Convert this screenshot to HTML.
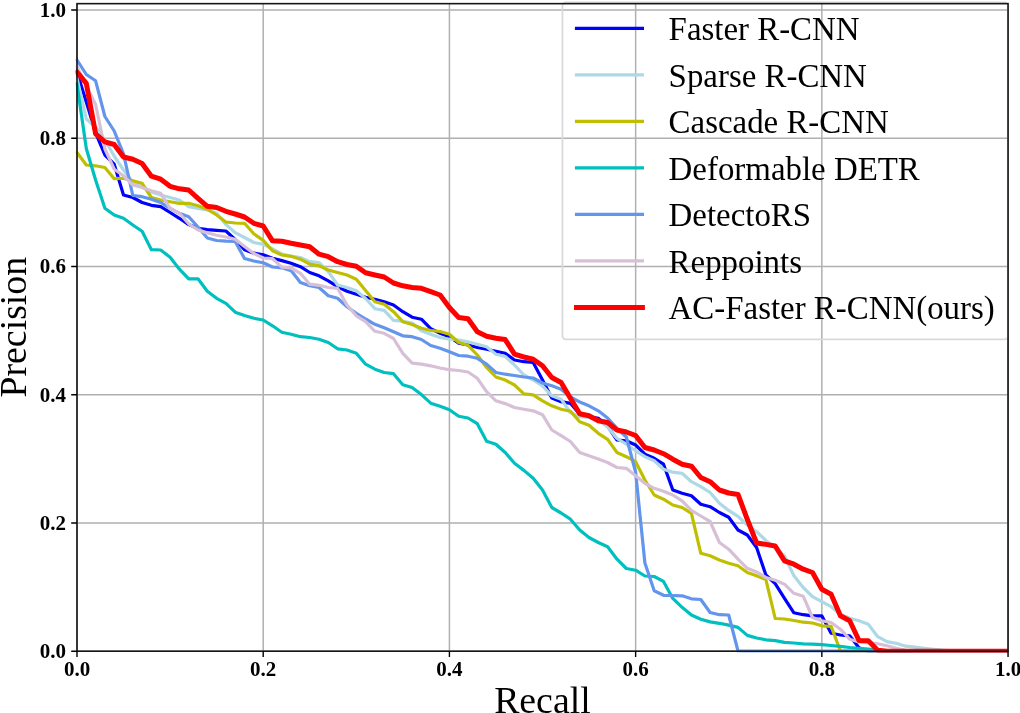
<!DOCTYPE html>
<html><head><meta charset="utf-8"><title>PR curve</title>
<style>html,body{margin:0;padding:0;background:#fff}svg{display:block}text{font-family:"Liberation Serif",serif;fill:#000}</style></head><body>
<svg width="1020" height="713" viewBox="0 0 1020 713">
<rect width="1020" height="713" fill="#fff"/>
<path d="M77.00 3.65 V651.2 M77.0 651.20 H1008.05 M263.21 3.65 V651.2 M77.0 522.97 H1008.05 M449.42 3.65 V651.2 M77.0 394.74 H1008.05 M635.63 3.65 V651.2 M77.0 266.51 H1008.05 M821.84 3.65 V651.2 M77.0 138.28 H1008.05 M1008.05 3.65 V651.2 M77.0 10.05 H1008.05" stroke="#b0b0b0" stroke-width="1.5" fill="none"/>
<clipPath id="c"><rect x="75.7" y="3.65" width="932.3499999999999" height="648.95"/></clipPath>
<g clip-path="url(#c)" fill="none" stroke-linejoin="round" stroke-linecap="square">
<path d="M77.0 72.0 L86.3 102.0 L95.6 132.8 L104.9 155.0 L114.2 164.2 L123.5 195.0 L132.8 197.5 L142.1 202.5 L151.4 205.3 L160.7 206.7 L170.1 212.5 L179.4 218.3 L188.7 224.6 L198.0 228.3 L207.3 229.6 L216.6 230.4 L225.9 231.0 L235.2 239.5 L244.5 249.8 L253.8 253.2 L263.2 254.8 L272.5 258.3 L281.8 260.6 L291.1 263.3 L300.4 266.7 L309.7 272.5 L319.0 275.8 L328.3 280.8 L337.6 286.7 L347.0 291.3 L356.3 294.2 L365.6 297.3 L374.9 299.2 L384.2 301.7 L393.5 305.0 L402.8 311.7 L412.1 317.2 L421.4 319.2 L430.7 328.7 L440.1 333.3 L449.4 336.7 L458.7 343.3 L468.0 345.0 L477.3 347.5 L486.6 349.2 L495.9 351.3 L505.2 353.3 L514.5 360.0 L523.9 361.7 L533.2 362.5 L542.5 380.0 L551.8 398.0 L561.1 401.7 L570.4 403.3 L579.7 414.2 L589.0 416.5 L598.3 418.3 L607.6 426.0 L617.0 440.0 L626.3 440.8 L635.6 445.0 L644.9 454.2 L654.2 458.3 L663.5 464.2 L672.8 490.0 L682.1 493.3 L691.4 495.8 L700.8 504.2 L710.1 506.7 L719.4 512.5 L728.7 517.2 L738.0 530.0 L747.3 535.0 L756.6 547.5 L765.9 575.0 L775.2 583.7 L784.5 598.3 L793.9 612.8 L803.2 614.7 L812.5 615.8 L821.8 615.8 L831.1 633.3 L840.4 635.0 L849.7 635.8 L859.0 647.8 L868.3 651.2 L877.7 651.2 L887.0 651.2 L896.3 651.2 L905.6 651.2 L914.9 651.2 L924.2 651.2 L933.5 651.2 L942.8 651.2 L952.1 651.2 L961.4 651.2 L970.8 651.2 L980.1 651.2 L989.4 651.2 L998.7 651.2 L1008.0 651.2" stroke="#0000ff" stroke-width="3.2"/>
<path d="M77.0 78.0 L86.3 119.0 L95.6 127.0 L104.9 140.0 L114.2 156.0 L123.5 170.0 L132.8 182.0 L142.1 187.0 L151.4 192.0 L160.7 195.0 L170.1 197.5 L179.4 200.0 L188.7 206.7 L198.0 208.3 L207.3 210.0 L216.6 213.3 L225.9 224.5 L235.2 232.7 L244.5 237.5 L253.8 242.5 L263.2 244.2 L272.5 249.0 L281.8 254.0 L291.1 256.0 L300.4 257.5 L309.7 261.7 L319.0 262.5 L328.3 271.7 L337.6 285.0 L347.0 287.5 L356.3 290.8 L365.6 298.5 L374.9 308.7 L384.2 310.4 L393.5 320.4 L402.8 321.2 L412.1 323.0 L421.4 330.8 L430.7 334.2 L440.1 337.5 L449.4 339.2 L458.7 340.0 L468.0 341.7 L477.3 344.2 L486.6 346.7 L495.9 354.2 L505.2 356.5 L514.5 365.0 L523.9 375.0 L533.2 380.0 L542.5 385.8 L551.8 395.8 L561.1 399.2 L570.4 412.5 L579.7 416.7 L589.0 417.5 L598.3 420.0 L607.6 427.0 L617.0 438.5 L626.3 444.2 L635.6 450.8 L644.9 456.7 L654.2 460.8 L663.5 469.2 L672.8 472.2 L682.1 473.3 L691.4 481.7 L700.8 486.7 L710.1 492.5 L719.4 503.3 L728.7 510.4 L738.0 516.3 L747.3 525.0 L756.6 531.7 L765.9 540.5 L775.2 547.8 L784.5 556.0 L793.9 575.8 L803.2 587.5 L812.5 596.7 L821.8 601.7 L831.1 606.7 L840.4 614.2 L849.7 618.3 L859.0 620.8 L868.3 624.2 L877.7 636.7 L887.0 641.7 L896.3 643.3 L905.6 646.2 L914.9 647.2 L924.2 648.3 L933.5 649.3 L942.8 650.2 L952.1 650.8 L961.4 651.2 L970.8 651.2 L980.1 651.2 L989.4 651.2 L998.7 651.2 L1008.0 651.2" stroke="#add8e6" stroke-width="3.2"/>
<path d="M77.0 152.5 L86.3 165.0 L95.6 165.8 L104.9 167.5 L114.2 178.7 L123.5 178.3 L132.8 180.8 L142.1 183.3 L151.4 197.5 L160.7 200.0 L170.1 201.7 L179.4 203.3 L188.7 203.3 L198.0 205.8 L207.3 209.2 L216.6 215.0 L225.9 222.0 L235.2 223.0 L244.5 223.3 L253.8 233.8 L263.2 240.4 L272.5 250.8 L281.8 255.0 L291.1 256.3 L300.4 259.2 L309.7 264.2 L319.0 265.8 L328.3 270.0 L337.6 272.5 L347.0 275.0 L356.3 279.2 L365.6 290.4 L374.9 301.7 L384.2 304.2 L393.5 311.7 L402.8 321.7 L412.1 324.5 L421.4 328.3 L430.7 330.5 L440.1 331.5 L449.4 334.2 L458.7 342.5 L468.0 345.3 L477.3 355.0 L486.6 367.5 L495.9 377.0 L505.2 380.0 L514.5 385.0 L523.9 393.8 L533.2 394.8 L542.5 400.8 L551.8 405.8 L561.1 409.2 L570.4 411.3 L579.7 421.7 L589.0 425.3 L598.3 433.3 L607.6 439.4 L617.0 452.5 L626.3 456.7 L635.6 461.7 L644.9 480.0 L654.2 495.0 L663.5 499.2 L672.8 505.0 L682.1 507.5 L691.4 513.3 L700.8 553.3 L710.1 555.8 L719.4 560.0 L728.7 563.3 L738.0 565.8 L747.3 572.5 L756.6 575.8 L765.9 579.6 L775.2 618.5 L784.5 619.0 L793.9 620.5 L803.2 622.2 L812.5 623.0 L821.8 625.8 L831.1 626.3 L840.4 651.0 L849.7 651.2 L859.0 651.2 L868.3 651.2 L877.7 651.2 L887.0 651.2 L896.3 651.2 L905.6 651.2 L914.9 651.2 L924.2 651.2 L933.5 651.2 L942.8 651.2 L952.1 651.2 L961.4 651.2 L970.8 651.2 L980.1 651.2 L989.4 651.2 L998.7 651.2 L1008.0 651.2" stroke="#bfbf00" stroke-width="3.2"/>
<path d="M77.0 84.0 L86.3 148.5 L95.6 180.0 L104.9 208.3 L114.2 215.0 L123.5 218.3 L132.8 225.0 L142.1 231.3 L151.4 249.7 L160.7 250.0 L170.1 257.2 L179.4 269.2 L188.7 278.8 L198.0 278.8 L207.3 291.3 L216.6 298.3 L225.9 303.3 L235.2 312.2 L244.5 315.5 L253.8 318.3 L263.2 320.0 L272.5 325.8 L281.8 332.2 L291.1 334.2 L300.4 336.7 L309.7 337.5 L319.0 339.2 L328.3 342.5 L337.6 348.8 L347.0 350.0 L356.3 353.3 L365.6 364.2 L374.9 369.2 L384.2 372.5 L393.5 373.7 L402.8 384.7 L412.1 387.5 L421.4 394.6 L430.7 403.2 L440.1 406.3 L449.4 409.7 L458.7 416.3 L468.0 418.0 L477.3 423.7 L486.6 441.3 L495.9 444.2 L505.2 452.5 L514.5 463.3 L523.9 470.4 L533.2 478.3 L542.5 490.0 L551.8 507.5 L561.1 513.0 L570.4 519.2 L579.7 530.0 L589.0 537.5 L598.3 542.5 L607.6 546.7 L617.0 559.2 L626.3 568.5 L635.6 570.2 L644.9 576.0 L654.2 576.5 L663.5 581.4 L672.8 598.4 L682.1 607.3 L691.4 615.0 L700.8 619.2 L710.1 621.9 L719.4 623.3 L728.7 625.1 L738.0 627.4 L747.3 635.4 L756.6 638.0 L765.9 639.8 L775.2 640.7 L784.5 642.3 L793.9 643.0 L803.2 643.8 L812.5 644.2 L821.8 644.7 L831.1 645.5 L840.4 646.3 L849.7 647.5 L859.0 648.3 L868.3 649.2 L877.7 650.0 L887.0 650.6 L896.3 651.2 L905.6 651.2 L914.9 651.2 L924.2 651.2 L933.5 651.2 L942.8 651.2 L952.1 651.2 L961.4 651.2 L970.8 651.2 L980.1 651.2 L989.4 651.2 L998.7 651.2 L1008.0 651.2" stroke="#00bfbf" stroke-width="3.2"/>
<path d="M77.0 60.0 L86.3 74.5 L95.6 80.8 L104.9 116.5 L114.2 131.0 L123.5 153.8 L132.8 195.5 L142.1 196.7 L151.4 199.2 L160.7 202.5 L170.1 208.3 L179.4 213.3 L188.7 216.7 L198.0 227.0 L207.3 238.0 L216.6 240.5 L225.9 241.2 L235.2 241.5 L244.5 258.5 L253.8 261.0 L263.2 262.8 L272.5 267.0 L281.8 267.8 L291.1 270.6 L300.4 282.5 L309.7 285.8 L319.0 287.5 L328.3 295.8 L337.6 298.2 L347.0 306.7 L356.3 313.3 L365.6 319.0 L374.9 324.3 L384.2 327.8 L393.5 331.7 L402.8 335.8 L412.1 336.7 L421.4 339.5 L430.7 345.5 L440.1 348.3 L449.4 351.7 L458.7 355.5 L468.0 356.2 L477.3 358.3 L486.6 364.2 L495.9 372.5 L505.2 374.2 L514.5 375.5 L523.9 377.0 L533.2 378.0 L542.5 383.0 L551.8 385.8 L561.1 389.2 L570.4 397.0 L579.7 402.0 L589.0 405.8 L598.3 410.8 L607.6 418.0 L617.0 428.3 L626.3 437.0 L635.6 472.0 L644.9 563.0 L654.2 590.8 L663.5 595.3 L672.8 595.5 L682.1 595.8 L691.4 598.8 L700.8 599.5 L710.1 612.5 L719.4 614.7 L728.7 615.0 L738.0 651.0 L747.3 651.2 L756.6 651.2 L765.9 651.2 L775.2 651.2 L784.5 651.2 L793.9 651.2 L803.2 651.2 L812.5 651.2 L821.8 651.2 L831.1 651.2 L840.4 651.2 L849.7 651.2 L859.0 651.2 L868.3 651.2 L877.7 651.2 L887.0 651.2 L896.3 651.2 L905.6 651.2 L914.9 651.2 L924.2 651.2 L933.5 651.2 L942.8 651.2 L952.1 651.2 L961.4 651.2 L970.8 651.2 L980.1 651.2 L989.4 651.2 L998.7 651.2 L1008.0 651.2" stroke="#6495ed" stroke-width="3.2"/>
<path d="M77.0 66.5 L86.3 86.0 L95.6 104.5 L104.9 149.0 L114.2 169.2 L123.5 175.8 L132.8 185.0 L142.1 187.5 L151.4 190.8 L160.7 193.3 L170.1 208.3 L179.4 213.3 L188.7 223.8 L198.0 230.0 L207.3 232.9 L216.6 235.2 L225.9 237.0 L235.2 239.2 L244.5 246.5 L253.8 253.5 L263.2 258.0 L272.5 258.6 L281.8 267.2 L291.1 268.0 L300.4 273.3 L309.7 284.2 L319.0 285.3 L328.3 287.5 L337.6 288.3 L347.0 305.0 L356.3 315.8 L365.6 321.6 L374.9 331.3 L384.2 333.3 L393.5 338.5 L402.8 353.3 L412.1 363.2 L421.4 364.2 L430.7 365.8 L440.1 368.0 L449.4 369.7 L458.7 370.5 L468.0 372.0 L477.3 378.3 L486.6 391.7 L495.9 400.8 L505.2 403.6 L514.5 407.5 L523.9 409.2 L533.2 410.8 L542.5 414.7 L551.8 430.0 L561.1 435.6 L570.4 441.5 L579.7 452.5 L589.0 455.8 L598.3 459.1 L607.6 462.5 L617.0 467.5 L626.3 468.3 L635.6 475.8 L644.9 483.3 L654.2 488.3 L663.5 491.3 L672.8 495.0 L682.1 500.8 L691.4 510.4 L700.8 516.0 L710.1 521.5 L719.4 542.5 L728.7 549.2 L738.0 559.2 L747.3 568.3 L756.6 572.0 L765.9 577.5 L775.2 580.3 L784.5 584.2 L793.9 593.3 L803.2 596.2 L812.5 617.5 L821.8 620.8 L831.1 622.5 L840.4 629.2 L849.7 639.2 L859.0 642.0 L868.3 643.0 L877.7 643.7 L887.0 645.8 L896.3 648.3 L905.6 650.3 L914.9 651.2 L924.2 651.2 L933.5 651.2 L942.8 651.2 L952.1 651.2 L961.4 651.2 L970.8 651.2 L980.1 651.2 L989.4 651.2 L998.7 651.2 L1008.0 651.2" stroke="#d8bfd8" stroke-width="3.2"/>
<path d="M77.0 72.2 L86.3 83.4 L95.6 133.8 L104.9 141.8 L114.2 144.5 L123.5 157.0 L132.8 159.2 L142.1 163.5 L151.4 176.2 L160.7 179.2 L170.1 186.3 L179.4 188.8 L188.7 190.0 L198.0 198.3 L207.3 206.3 L216.6 207.5 L225.9 211.3 L235.2 214.0 L244.5 217.0 L253.8 223.3 L263.2 226.0 L272.5 240.8 L281.8 241.3 L291.1 243.3 L300.4 245.0 L309.7 246.7 L319.0 254.2 L328.3 256.7 L337.6 261.7 L347.0 264.5 L356.3 266.2 L365.6 272.8 L374.9 275.0 L384.2 277.0 L393.5 283.0 L402.8 285.8 L412.1 287.5 L421.4 288.3 L430.7 291.7 L440.1 295.0 L449.4 307.5 L458.7 317.5 L468.0 318.8 L477.3 331.7 L486.6 336.2 L495.9 338.3 L505.2 339.6 L514.5 354.2 L523.9 357.0 L533.2 359.2 L542.5 365.8 L551.8 377.5 L561.1 382.5 L570.4 398.3 L579.7 413.7 L589.0 415.8 L598.3 420.8 L607.6 422.5 L617.0 430.0 L626.3 432.0 L635.6 435.5 L644.9 447.5 L654.2 450.0 L663.5 453.7 L672.8 459.2 L682.1 464.2 L691.4 466.2 L700.8 477.5 L710.1 481.7 L719.4 490.0 L728.7 493.0 L738.0 494.5 L747.3 519.3 L756.6 543.0 L765.9 544.4 L775.2 546.0 L784.5 560.8 L793.9 564.2 L803.2 569.2 L812.5 572.5 L821.8 589.2 L831.1 594.2 L840.4 615.8 L849.7 620.8 L859.0 640.5 L868.3 640.8 L877.7 650.2 L887.0 651.2 L896.3 651.2 L905.6 651.2 L914.9 651.2 L924.2 651.2 L933.5 651.2 L942.8 651.2 L952.1 651.2 L961.4 651.2 L970.8 651.2 L980.1 651.2 L989.4 651.2 L998.7 651.2 L1008.0 651.2" stroke="#ff0000" stroke-width="5.0"/>
</g>
<rect x="562.45" y="2.4" width="445.54999999999995" height="336.90000000000003" rx="3.5" ry="3.5" fill="none" stroke="#d9d9d9" stroke-width="1.8"/>
<rect x="77.0" y="3.65" width="931.05" height="647.5500000000001" fill="none" stroke="#161616" stroke-width="1.6"/>
<path d="M77.00 651.2 v5.8 M77.0 651.20 h-5.8 M263.21 651.2 v5.8 M77.0 522.97 h-5.8 M449.42 651.2 v5.8 M77.0 394.74 h-5.8 M635.63 651.2 v5.8 M77.0 266.51 h-5.8 M821.84 651.2 v5.8 M77.0 138.28 h-5.8 M1008.05 651.2 v5.8 M77.0 10.05 h-5.8" stroke="#000" stroke-width="1.4" fill="none"/>
<text x="77.00" y="676.1" font-size="21.0" font-weight="bold" text-anchor="middle">0.0</text>
<text x="66.0" y="658.10" font-size="21.0" font-weight="bold" text-anchor="end">0.0</text>
<text x="263.21" y="676.1" font-size="21.0" font-weight="bold" text-anchor="middle">0.2</text>
<text x="66.0" y="529.87" font-size="21.0" font-weight="bold" text-anchor="end">0.2</text>
<text x="449.42" y="676.1" font-size="21.0" font-weight="bold" text-anchor="middle">0.4</text>
<text x="66.0" y="401.64" font-size="21.0" font-weight="bold" text-anchor="end">0.4</text>
<text x="635.63" y="676.1" font-size="21.0" font-weight="bold" text-anchor="middle">0.6</text>
<text x="66.0" y="273.41" font-size="21.0" font-weight="bold" text-anchor="end">0.6</text>
<text x="821.84" y="676.1" font-size="21.0" font-weight="bold" text-anchor="middle">0.8</text>
<text x="66.0" y="145.18" font-size="21.0" font-weight="bold" text-anchor="end">0.8</text>
<text x="1008.05" y="676.1" font-size="21.0" font-weight="bold" text-anchor="middle">1.0</text>
<text x="66.0" y="16.95" font-size="21.0" font-weight="bold" text-anchor="end">1.0</text>
<text x="542.4" y="713.0" font-size="37.8" text-anchor="middle">Recall</text>
<text transform="translate(26.2,327.2) rotate(-90)" font-size="37.8" text-anchor="middle">Precision</text>
<path d="M576.5 28.35 H642.4" stroke="#0000ff" stroke-width="3.2" stroke-linecap="square" fill="none"/>
<text x="668.6" y="40.2" font-size="32.9">Faster R-CNN</text>
<path d="M576.5 74.86 H642.4" stroke="#add8e6" stroke-width="3.2" stroke-linecap="square" fill="none"/>
<text x="668.6" y="86.7" font-size="32.9">Sparse R-CNN</text>
<path d="M576.5 121.37 H642.4" stroke="#bfbf00" stroke-width="3.2" stroke-linecap="square" fill="none"/>
<text x="668.6" y="133.2" font-size="32.9">Cascade R-CNN</text>
<path d="M576.5 167.88 H642.4" stroke="#00bfbf" stroke-width="3.2" stroke-linecap="square" fill="none"/>
<text x="668.6" y="179.7" font-size="32.9">Deformable DETR</text>
<path d="M576.5 214.39 H642.4" stroke="#6495ed" stroke-width="3.2" stroke-linecap="square" fill="none"/>
<text x="668.6" y="226.2" font-size="32.9">DetectoRS</text>
<path d="M576.5 260.9 H642.4" stroke="#d8bfd8" stroke-width="3.2" stroke-linecap="square" fill="none"/>
<text x="668.6" y="272.7" font-size="32.9">Reppoints</text>
<path d="M576.5 307.41 H642.4" stroke="#ff0000" stroke-width="5.0" stroke-linecap="square" fill="none"/>
<text x="668.6" y="319.2" font-size="32.9">AC-Faster R-CNN(ours)</text>
</svg></body></html>
